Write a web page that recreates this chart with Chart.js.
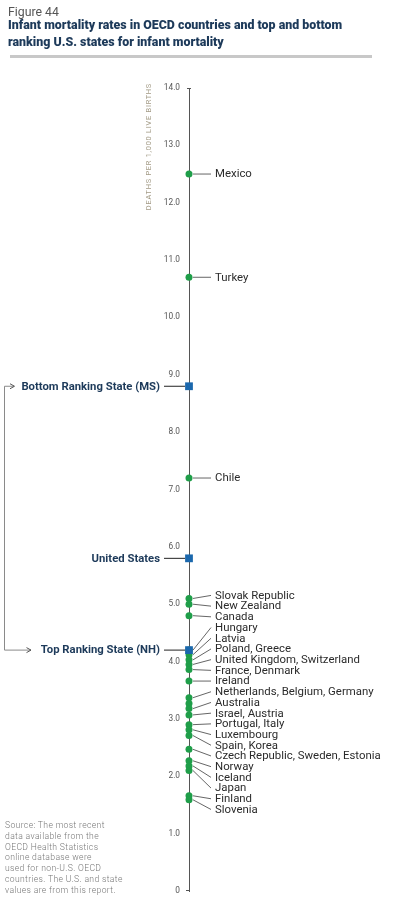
<!DOCTYPE html>
<html><head><meta charset="utf-8">
<script src="https://cdn.jsdelivr.net/npm/chart.js@4.4.1/dist/chart.umd.min.js"></script>
<style>
html,body{margin:0;padding:0;background:#fff;width:402px;height:912px;overflow:hidden;font-family:Roboto,"Liberation Sans",sans-serif;}
#wrap{position:absolute;left:0;top:0;width:402px;height:912px;}
#fig{position:absolute;left:8px;top:5px;font-size:12.3px;line-height:14px;color:#555;}
#title{position:absolute;left:8px;top:17px;font-size:12.4px;font-weight:900;color:#1d3a5a;line-height:16.5px;white-space:nowrap;}
#rule{position:absolute;left:10px;top:55px;width:362px;height:3px;background:#c8c8c8;}
#src{position:absolute;left:5px;top:820px;font-size:8.6px;letter-spacing:0.35px;line-height:10.8px;color:#777;white-space:nowrap;font-weight:300;}
</style></head><body>
<div id="wrap"><canvas id="c" width="402" height="912"></canvas></div>
<div id="fig">Figure 44</div>
<div id="title">Infant mortality rates in OECD countries and top and bottom<br>ranking U.S. states for infant mortality</div>
<div id="rule"></div>
<div id="src">Source: The most recent<br>data available from the<br>OECD Health Statistics<br>online database were<br>used for non-U.S. OECD<br>countries. The U.S. and state<br>values are from this report.</div>
<script>
// ---- data ----
const tickValues = [0,1,2,3,4,5,6,7,8,9,10,11,12,13,14];
const tickLabels = ['0','1.0','2.0','3.0','4.0','5.0','6.0','7.0','8.0','9.0','10.0','11.0','12.0','13.0','14.0'];
const axisTitle = 'DEATHS PER 1,000 LIVE BIRTHS';

const countryLabels = ['Mexico','Turkey','Chile','Slovak Republic','New Zealand','Canada','Hungary','Latvia',
  'Poland, Greece','United Kingdom, Switzerland','France, Denmark','Ireland','Netherlands, Belgium, Germany',
  'Australia','Israel, Austria','Portugal, Italy','Luxembourg','Spain, Korea','Czech Republic, Sweden, Estonia',
  'Norway','Iceland','Japan','Finland','Slovenia'];
// one or more dots per label
const countryRates = [[12.5],[10.7],[7.2],[5.1],[5.0],[4.8],[4.2],[4.12],
  [4.03],[3.95],[3.86],[3.66],[3.37,3.27],
  [3.18],[3.07],[2.9],[2.81],[2.71],[2.47],
  [2.27],[2.18],[2.1],[1.66],[1.59]];

const stateLabels = ['Bottom Ranking State (MS)','United States','Top Ranking State (NH)'];
const stateRates = [8.8, 5.8, 4.2];

// ---- chart ----
const FONT = 'Roboto, "Liberation Sans", sans-serif';
const greenPts = [];
countryRates.forEach(arr => arr.forEach(v => greenPts.push({x:0, y:v})));
const statePts = stateRates.map(v => ({x:0, y:v}));

const annot = {
  id:'annot',
  afterDatasetsDraw(chart){
    const {ctx, chartArea, scales:{y}} = chart;
    const left = chartArea.left;
    ctx.save();
    // axis caps
    ctx.strokeStyle = '#555'; ctx.lineWidth = 1;
    const yTop = y.getPixelForValue(14), yBot = y.getPixelForValue(0);
    ctx.beginPath();
    ctx.moveTo(left-2, Math.round(yTop)+0.5); ctx.lineTo(left+2, Math.round(yTop)+0.5);
    ctx.moveTo(left-3, Math.round(yBot)-0.5); ctx.lineTo(left+1, Math.round(yBot)-0.5);
    ctx.stroke();

    // axis title
    ctx.save();
    ctx.translate(left-40, yTop-5);
    ctx.rotate(-Math.PI/2);
    ctx.textAlign = 'right'; ctx.textBaseline = 'middle';
    ctx.fillStyle = '#a39b86';
    ctx.font = '7.4px ' + FONT;
    try { ctx.letterSpacing = '0.75px'; } catch(e) {}
    ctx.fillText(axisTitle, 0, 0);
    ctx.restore();

    // country label layout
    const gap = 10.7;
    const items = countryLabels.map((t,i) => ({t, dy: y.getPixelForValue(countryRates[i][0])}));
    items.sort((a,b) => a.dy - b.dy);
    const groups = items.map(it => ({items:[it]}));
    const lay = g => { const n = g.items.length; const m = g.items.reduce((s,it)=>s+it.dy,0)/n; g.start = m - gap*(n-1)/2; };
    groups.forEach(lay);
    let changed = true;
    while (changed) {
      changed = false;
      for (let i=0;i<groups.length-1;i++){
        const a = groups[i], b = groups[i+1];
        const aEnd = a.start + gap*(a.items.length-1);
        if (b.start - aEnd < gap) { a.items = a.items.concat(b.items); lay(a); groups.splice(i+1,1); changed = true; break; }
      }
    }
    groups.forEach(g => g.items.forEach((it,k) => it.ly = g.start + k*gap));

    ctx.strokeStyle = '#555'; ctx.lineWidth = 0.9;
    items.forEach(it => {
      ctx.beginPath(); ctx.moveTo(left+4, it.dy); ctx.lineTo(left+22, it.ly); ctx.stroke();
    });
    ctx.fillStyle = '#2b2b2b'; ctx.font = '11.4px ' + FONT;
    ctx.textAlign = 'left'; ctx.textBaseline = 'middle';
    items.forEach(it => ctx.fillText(it.t, left+26, it.ly+0.5));

    // state labels
    ctx.strokeStyle = '#222'; ctx.lineWidth = 1;
    ctx.fillStyle = '#1d3a5a'; ctx.font = 'bold 11.3px ' + FONT;
    ctx.textAlign = 'right';
    const sy = stateRates.map(v => y.getPixelForValue(v));
    sy.forEach((py,i) => {
      ctx.beginPath(); ctx.moveTo(left-25, py); ctx.lineTo(left-4, py); ctx.stroke();
      ctx.fillText(stateLabels[i], left-29, py+0.5);
    });

    // bracket linking bottom and top states
    const yA = sy[0], yB = sy[2];
    ctx.strokeStyle = '#8a8a8a'; ctx.lineWidth = 1;
    ctx.beginPath();
    ctx.moveTo(14, yA); ctx.lineTo(4.5, yA); ctx.lineTo(4.5, yB); ctx.lineTo(31, yB);
    ctx.stroke();
    ctx.strokeStyle = '#555';
    ctx.beginPath();
    ctx.moveTo(10, yA-2.5); ctx.lineTo(14.5, yA); ctx.lineTo(10, yA+2.5);
    ctx.moveTo(26.5, yB-2.5); ctx.lineTo(31, yB); ctx.lineTo(26.5, yB+2.5);
    ctx.stroke();
    ctx.restore();
  }
};

new Chart(document.getElementById('c'), {
  type: 'scatter',
  data: {
    datasets: [
      { label:'States', data: statePts, pointStyle:'rect', pointRadius:5.5, pointBorderWidth:0,
        backgroundColor:'#1b68ad', borderColor:'#1b68ad', clip:false },
      { label:'OECD', data: greenPts, pointStyle:'circle', pointRadius:3.5, pointBorderWidth:0,
        backgroundColor:'#1f9e49', borderColor:'#1f9e49', clip:false }
    ]
  },
  options: {
    responsive:false, animation:false, events:[],
    layout:{ padding:{ top:88, bottom:21, left:0, right:10 } },
    plugins:{ legend:{display:false}, tooltip:{enabled:false} },
    scales:{
      x:{ type:'linear', display:false, min:0, max:1 },
      y:{ type:'linear', min:0, max:14,
          afterBuildTicks: s => { s.ticks = tickValues.map(v => ({value:v})); },
          afterFit: s => { s.width = 189; },
          grid:{ display:false, drawTicks:false },
          border:{ display:true, color:'#555', width:1 },
          ticks:{ padding:9, color:'#555', font:{ size:8.3, family:FONT },
                  callback:(v,i) => tickLabels[i] } }
    }
  },
  plugins:[annot]
});
</script>
</body></html>
